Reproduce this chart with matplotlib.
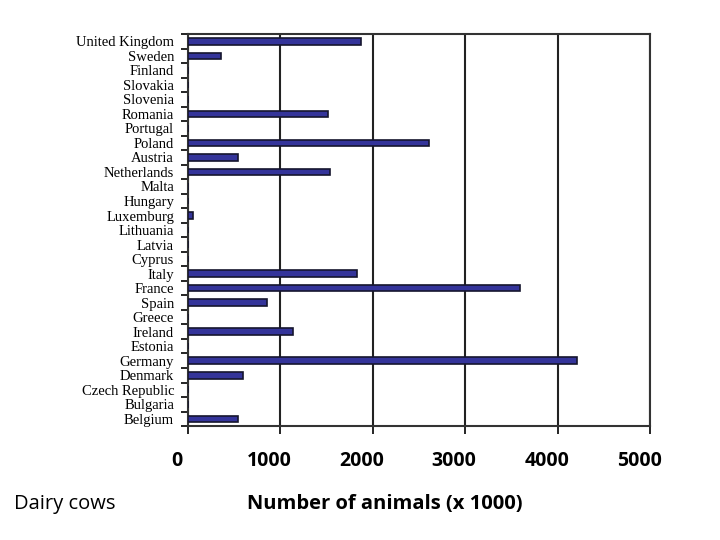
import matplotlib.pyplot as plt
import matplotlib.transforms as mtransforms
import numpy as np

# Dairy cows per country (x 1000), bottom to top as in the chart
countries = ["Belgium", "Bulgaria", "Czech Republic", "Denmark", "Germany",
             "Estonia", "Ireland", "Greece", "Spain", "France", "Italy",
             "Cyprus", "Latvia", "Lithuania", "Luxemburg", "Hungary", "Malta",
             "Netherlands", "Austria", "Poland", "Portugal", "Romania",
             "Slovenia", "Slovakia", "Finland", "Sweden", "United Kingdom"]
cows = [540, 0, 0, 592, 4210,
        0, 1140, 0, 852, 3593, 1826,
        0, 0, 0, 50, 0, 0,
        1537, 540, 2608, 0, 1515,
        0, 0, 0, 360, 1870]

xticks = [0, 1000, 2000, 3000, 4000, 5000]

fig = plt.figure(figsize=(7.2, 5.4), dpi=100)
ax = fig.add_axes([0.261, 0.211, 0.642, 0.726])

y = np.arange(len(countries))
ax.barh(y, cows, height=0.45, color="#34349a", edgecolor="#15152e", linewidth=1.2, zorder=3)

ax.set_xlim(0, 5000)
ax.set_ylim(-0.5, len(countries) - 0.5)
ax.set_xticks(xticks)
ax.set_xticklabels([str(t) for t in xticks], fontfamily="Open Sans", fontweight="bold", fontsize=14)
ax.tick_params(axis="x", length=6, width=1.2, pad=12, direction="out")
ax.xaxis.grid(True, color="#222222", linewidth=1.5, zorder=0)

# tick numbers sit a little left of their grid lines in the original
shift = mtransforms.ScaledTranslation(-8 / 72, 0, fig.dpi_scale_trans)
for lbl in ax.get_xticklabels():
    lbl.set_transform(lbl.get_transform() + shift)

ax.set_yticks(y)
ax.set_yticklabels(countries, fontfamily="Liberation Serif", fontsize=10.5)
ax.tick_params(axis="y", length=0, pad=10)
ax.set_yticks(np.arange(len(countries) + 1) - 0.5, minor=True)
ax.tick_params(axis="y", which="minor", length=5, width=1.2)

for side in ["left", "right", "top", "bottom"]:
    ax.spines[side].set_color("#333333")
    ax.spines[side].set_linewidth(1.5)

fig.text(0.535, 0.067, "Number of animals (x 1000)", ha="center", va="center",
         fontfamily="Open Sans", fontweight="bold", fontsize=14.5)
fig.text(0.02, 0.067, "Dairy cows", ha="left", va="center",
         fontfamily="Open Sans", fontsize=14.5)

fig.savefig("out.png", dpi=100)
